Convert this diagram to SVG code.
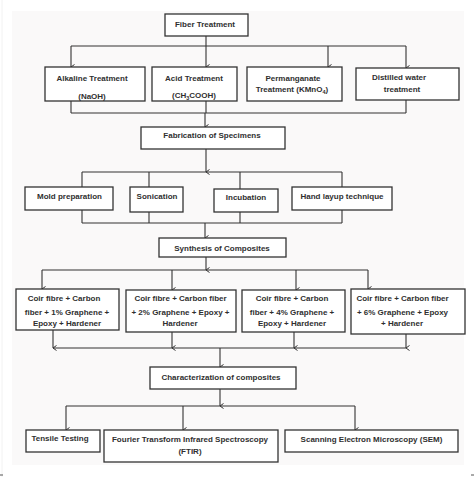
<svg xmlns="http://www.w3.org/2000/svg" width="474" height="477" viewBox="0 0 474 477">
<defs>
<marker id="ar" markerWidth="6" markerHeight="6" refX="3" refY="5" orient="auto-start-reverse" markerUnits="userSpaceOnUse" viewBox="0 0 6 6">
<path d="M0.5,1.5 L3,5 L5.5,1.5" fill="none" stroke="#333" stroke-width="1"/>
</marker>
<marker id="ad" markerWidth="6" markerHeight="6" refX="3" refY="5" markerUnits="userSpaceOnUse" viewBox="0 0 6 6" orient="auto">
<path d="M0.5,1.5 L3,5 L5.5,1.5" fill="none" stroke="#333" stroke-width="1"/>
</marker>
<style>
.b{fill:#ffffff;stroke:#333;stroke-width:1.3}
.t{font-family:"Liberation Sans",Arial,sans-serif;font-size:8px;font-weight:bold;fill:#2f2f2f;text-anchor:middle}
.c{fill:none;stroke:#333;stroke-width:1.1}
.a{marker-end:url(#ar)}
.d{marker-end:url(#ad)}
</style>
</defs>
<rect x="0" y="0" width="474" height="477" fill="#ffffff"/>
<rect x="12" y="11" width="452" height="454" fill="#faf9f9"/>
<line x1="2" y1="0" x2="2" y2="477" stroke="#f2f2f2" stroke-width="1"/>
<line x1="0" y1="475" x2="3" y2="475" stroke="#555" stroke-width="1"/>
<line x1="471" y1="475" x2="474" y2="475" stroke="#555" stroke-width="1"/>

<g id="connectors">
<path class="c" d="M206,36 V46 M71,46 H406"/>
<path class="c a" d="M71,46 V67"/>
<path class="c a" d="M206,46 V67"/>
<path class="c a" d="M328,46 V67"/>
<path class="c a" d="M406,46 V68"/>
<path class="c" d="M71,101 V113 M406,100 V113 M206,101 V113 M71,113 H406"/>
<path class="c a" d="M205,113 V127"/>
<path class="c a" d="M206,149 V172"/>
<path class="c" d="M82,172 H342 M82,172 V187 M149,172 V187 M240,172 V189 M342,172 V187"/>
<path class="c" d="M82,210 V223 M149,212 V223 M240,212 V223 M342,210 V223 M82,223 H342"/>
<path class="c a" d="M205,223 V238"/>
<path class="c a" d="M206,257 V270"/>
<path class="c" d="M42,270 H368"/>
<path class="c d" d="M42,270 V289"/>
<path class="c d" d="M172,270 V290"/>
<path class="c d" d="M296,270 V290"/>
<path class="c d" d="M368,270 V289"/>
<path class="c d" d="M53,330 V348"/>
<path class="c d" d="M172,332 V348"/>
<path class="c d" d="M294,332 V348"/>
<path class="c d" d="M406,334 V348"/>
<path class="c" d="M53,348 H406"/>
<path class="c d" d="M220,348 V367"/>
<path class="c d" d="M220,389 V406"/>
<path class="c" d="M66,406 H355"/>
<path class="c d" d="M66,406 V430"/>
<path class="c d" d="M183,406 V430"/>
<path class="c d" d="M355,406 V430"/>
</g>

<g id="fiber-treatment"><rect class="b" x="165" y="14" width="83" height="22"/><text class="t" x="205" y="26.5">Fiber Treatment</text></g>

<g id="alkaline"><rect class="b" x="45" y="67" width="100" height="34"/><text class="t" x="92" y="81">Alkaline Treatment</text><text class="t" x="92" y="98.5">(NaOH)</text></g>
<g id="acid"><rect class="b" x="152" y="67" width="85" height="34"/><text class="t" x="194" y="81">Acid Treatment</text><text class="t" x="194" y="98">(CH<tspan font-size="5.5" dy="1.5">3</tspan><tspan dy="-1.5">COOH)</tspan></text></g>
<g id="permanganate"><rect class="b" x="247" y="67" width="95" height="34"/><text class="t" x="293" y="81">Permanganate</text><text class="t" x="292" y="92">Treatment (KMnO<tspan font-size="5.5" dy="1.5">4</tspan><tspan dy="-1.5">)</tspan></text></g>
<g id="distilled"><rect class="b" x="356" y="68" width="103" height="32"/><text class="t" x="399" y="80">Distilled water</text><text class="t" x="402" y="92">treatment</text></g>

<g id="fabrication"><rect class="b" x="141" y="127" width="144" height="22"/><text class="t" x="212" y="138">Fabrication of Specimens</text></g>

<g id="mold"><rect class="b" x="25" y="187" width="88" height="23"/><text class="t" x="69.5" y="199">Mold preparation</text></g>
<g id="sonication"><rect class="b" x="130" y="187" width="53" height="25"/><text class="t" x="157" y="199">Sonication</text></g>
<g id="incubation"><rect class="b" x="214" y="189" width="64" height="23"/><text class="t" x="246" y="200">Incubation</text></g>
<g id="hand-layup"><rect class="b" x="292" y="187" width="100" height="23"/><text class="t" x="342" y="199">Hand layup technique</text></g>

<g id="synthesis"><rect class="b" x="159" y="238" width="127" height="19"/><text class="t" x="222" y="251">Synthesis of Composites</text></g>

<g id="comp1"><rect class="b" x="16" y="289" width="103" height="41"/><text class="t" x="64" y="301">Coir fibre + Carbon</text><text class="t" x="67" y="314.5">fiber + 1% Graphene +</text><text class="t" x="67" y="326">Epoxy + Hardener</text></g>
<g id="comp2"><rect class="b" x="126" y="290" width="110" height="42"/><text class="t" x="180.5" y="301">Coir fibre + Carbon fiber</text><text class="t" x="180.5" y="314.5">+ 2% Graphene + Epoxy +</text><text class="t" x="180" y="326">Hardener</text></g>
<g id="comp3"><rect class="b" x="242" y="290" width="103" height="42"/><text class="t" x="292" y="301">Coir fibre + Carbon</text><text class="t" x="292" y="314.5">fiber + 4% Graphene +</text><text class="t" x="292" y="326">Epoxy + Hardener</text></g>
<g id="comp4"><rect class="b" x="351" y="289" width="114" height="45"/><text class="t" x="402.5" y="301">Coir fibre + Carbon fiber</text><text class="t" x="402.5" y="314.5">+ 6% Graphene + Epoxy</text><text class="t" x="402" y="326">+ Hardener</text></g>

<g id="characterization"><rect class="b" x="150" y="367" width="146" height="22"/><text class="t" x="221" y="380">Characterization of composites</text></g>

<g id="tensile"><rect class="b" x="26" y="430" width="74" height="22"/><text class="t" x="60" y="441">Tensile Testing</text></g>
<g id="ftir"><rect class="b" x="104" y="430" width="174" height="32"/><text class="t" x="190" y="442">Fourier Transform Infrared Spectroscopy</text><text class="t" x="190" y="454">(FTIR)</text></g>
<g id="sem"><rect class="b" x="285" y="430" width="173" height="22"/><text class="t" x="371.5" y="442">Scanning Electron Microscopy (SEM)</text></g>
</svg>
